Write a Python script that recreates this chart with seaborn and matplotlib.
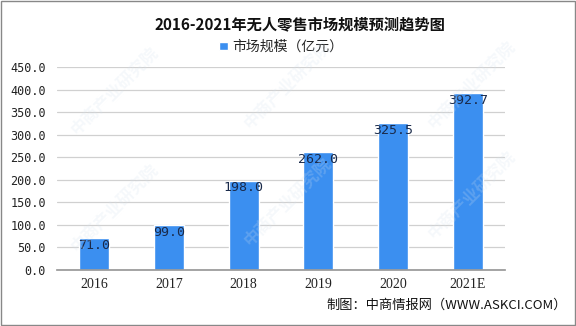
import matplotlib
matplotlib.use("Agg")
import matplotlib.pyplot as plt
import seaborn as sns
import pandas as pd
import numpy as np

years = ["2016", "2017", "2018", "2019", "2020", "2021E"]
values = [71.0, 99.0, 198.0, 262.0, 325.5, 392.7]
yticks = [0, 50, 100, 150, 200, 250, 300, 350, 400, 450]

sns.set_theme(style="white")
plt.rcParams['font.family'] = ['Noto Sans CJK SC', 'DejaVu Sans']

df = pd.DataFrame({"year": years, "value": values})

fig = plt.figure(figsize=(5.76, 3.26), dpi=100)
ax = fig.add_axes([0.099, 0.172, 0.778, 0.622])
sns.barplot(data=df, x="year", y="value", color="#3b8ff0", width=0.4, ax=ax,
            saturation=1, label="市场规模（亿元）")

ax.set_ylim(0, 450)
ax.set_yticks(yticks)
ax.set_yticklabels([f"{v:.1f}" for v in yticks], family="DejaVu Sans Mono", fontsize=8.5, color="#222222")
ax.set_xlim(-0.5, 5.5)
ax.set_xlabel("")
ax.set_ylabel("")
for lab in ax.get_xticklabels():
    lab.set_family("Liberation Serif")
    lab.set_fontsize(10)
    lab.set_color("#222222")
ax.tick_params(axis="x", length=0, pad=6)
ax.tick_params(axis="y", length=0, pad=8)
ax.set_xticks(np.arange(-0.5, 6.0, 1.0), minor=True)
ax.tick_params(axis="x", which="minor", length=4, color="#888888", direction="out")
ax.yaxis.grid(True, color="#d0d0d0", linewidth=0.9)
ax.set_axisbelow(True)
for s in ["left", "right", "top"]:
    ax.spines[s].set_visible(False)
ax.spines["bottom"].set_color("#999999")

for i, v in enumerate(values):
    ax.text(i, v - 16, f"{v:.1f}", ha="center", va="center",
            family="DejaVu Sans Mono", fontsize=9.5, color="#1a2a4a")

# faint watermarks
for (x, y) in [(0.2, 0.72), (0.5, 0.74), (0.82, 0.74), (0.2, 0.36), (0.5, 0.38), (0.82, 0.40)]:
    fig.text(x, y, "中商产业研究院", rotation=45, fontsize=12, color="#d5e2ee",
             alpha=0.22, ha="center", va="center", weight="bold")

fig.text(0.52, 0.925, "2016-2021年无人零售市场规模预测趋势图", ha="center", va="center",
         fontsize=11, weight="bold", color="#111111")
leg = ax.legend(loc="center", bbox_to_anchor=(0.5, 1.1), frameon=False, fontsize=10,
                handlelength=0.6, handleheight=0.6, handletextpad=0.3)
fig.text(0.985, 0.065, "制图：中商情报网（WWW.ASKCI.COM）", ha="right", va="center",
         fontsize=9.5, color="#111111")

border = plt.Rectangle((0.001, 0.002), 0.997, 0.995, transform=fig.transFigure,
                       fill=False, edgecolor="#888888", linewidth=1)
fig.patches.append(border)

fig.savefig("out.png", dpi=100)
